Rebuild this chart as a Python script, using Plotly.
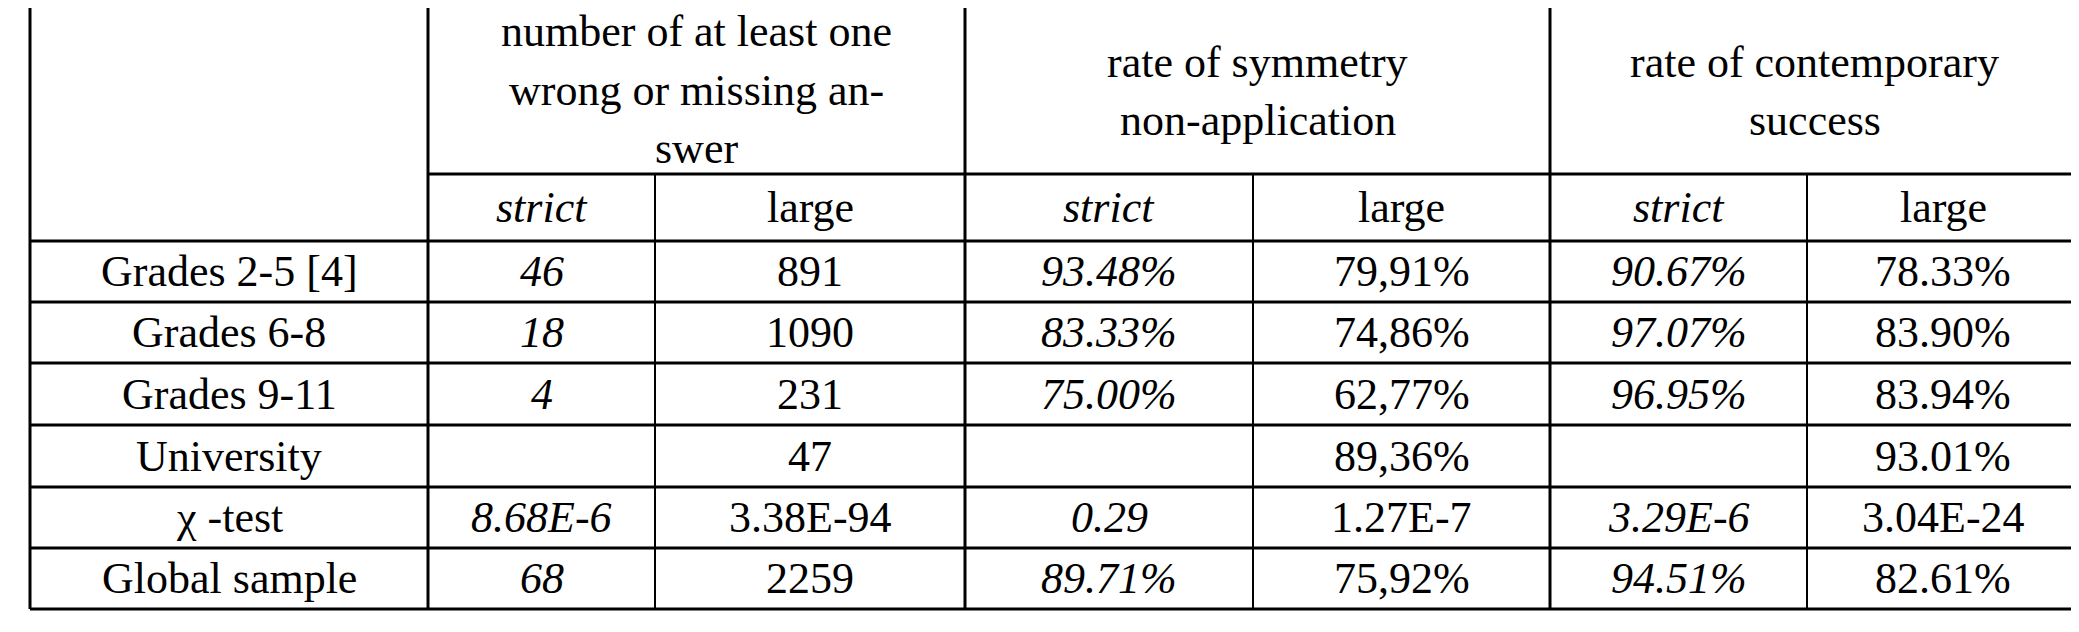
import plotly.graph_objects as go

row_labels = ["Grades 2-5 [4]", "Grades 6-8", "Grades 9-11", "University", "\u03c7 -test", "Global sample"]
group_headers = [["number of at least one", "wrong or missing an-", "swer"],
                 ["rate of symmetry", "non-application"],
                 ["rate of contemporary", "success"]]
sub_headers = ["strict", "large", "strict", "large", "strict", "large"]
wrong_strict = ["46", "18", "4", "", "8.68E-6", "68"]
wrong_large = ["891", "1090", "231", "47", "3.38E-94", "2259"]
sym_strict = ["93.48%", "83.33%", "75.00%", "", "0.29", "89.71%"]
sym_large = ["79,91%", "74,86%", "62,77%", "89,36%", "1.27E-7", "75,92%"]
succ_strict = ["90.67%", "97.07%", "96.95%", "", "3.29E-6", "94.51%"]
succ_large = ["78.33%", "83.90%", "83.94%", "93.01%", "3.04E-24", "82.61%"]
columns = [wrong_strict, wrong_large, sym_strict, sym_large, succ_strict, succ_large]

W, H = 2079, 632
OFF = 8  # page body margin
xs = [30, 428, 655, 965, 1253, 1550, 1807, 2120]
ys = [-5, 174, 241, 302, 363, 425, 487, 548, 609]
FONT = "Liberation Serif"
FS = 44

shapes = []
def line(x0, y0, x1, y1, w=3):
    shapes.append(dict(type="line", x0=x0, y0=y0, x1=x1, y1=y1, xref="x", yref="y",
                       line=dict(color="black", width=w)))

line(xs[1], ys[1], xs[-1], ys[1])
for y in ys[2:]:
    line(xs[0], y, xs[-1], y)
line(xs[0], ys[0], xs[0], ys[-1])
for x in [xs[1], xs[3], xs[5]]:
    line(x, ys[0], x, ys[-1])
for x in [xs[2], xs[4], xs[6]]:
    line(x, ys[1], x, ys[-1], 2)

ann = []
def txt(x, y, s, italic=False):
    ann.append(dict(x=x, y=y, xref="x", yref="y", text=f"<i>{s}</i>" if italic else s,
                    showarrow=False, xanchor="center", yanchor="middle",
                    font=dict(family=FONT, size=FS, color="black")))

for g, lines in enumerate(group_headers):
    cx = (xs[1 + 2 * g] + xs[3 + 2 * g]) / 2
    if g == 2:
        cx = (xs[5] + 2079) / 2
    starts = [31, 90, 148] if len(lines) == 3 else [62, 120]
    for s, yy in zip(lines, starts):
        txt(cx, yy, s)
for j, s in enumerate(sub_headers):
    xr = xs[j + 2] if j < 5 else 2079
    txt((xs[j + 1] + xr) / 2, (ys[1] + ys[2]) / 2, s, italic=(s == "strict"))
for i, lab in enumerate(row_labels):
    cy = (ys[i + 2] + ys[i + 3]) / 2
    txt((xs[0] + xs[1]) / 2, cy, lab)
    for j, col in enumerate(columns):
        xr = xs[j + 2] if j < 5 else 2079
        if col[i]:
            txt((xs[j + 1] + xr) / 2, cy, col[i], italic=(j % 2 == 0))

fig = go.Figure()
fig.update_layout(width=W, height=H, margin=dict(l=0, r=0, t=0, b=0),
                  paper_bgcolor="white", plot_bgcolor="white",
                  xaxis=dict(range=[OFF, W + OFF], visible=False, fixedrange=True),
                  yaxis=dict(range=[H + OFF, OFF], visible=False, fixedrange=True),
                  shapes=shapes, annotations=ann, showlegend=False)
fig.write_html("out.html")
